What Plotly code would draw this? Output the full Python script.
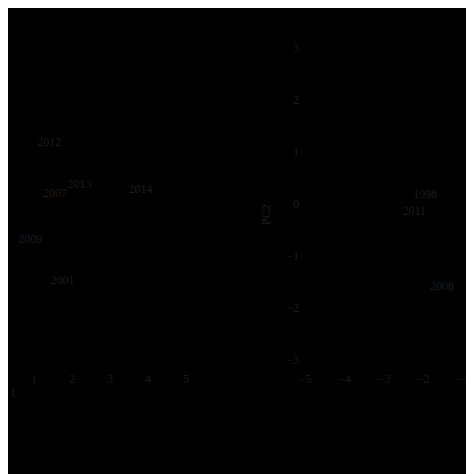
import plotly.graph_objects as go

left_years = ["2010", "2012", "2013", "2007", "2014", "2002", "2009", "2001"]
left_x = [-0.1, 1.4, 2.2, 1.55, 3.8, 0.3, 0.9, 1.75]
left_y = [1.69, 1.17, 0.37, 0.19, 0.27, -0.69, -0.69, -1.48]
right_years = ["1998", "2011", "2008"]
right_x = [-1.95, -2.23, -1.52]
right_y = [0.17, -0.15, -1.6]
x1_ticks = [1, 2, 3, 4, 5]
x2_ticks = [-5, -4, -3, -2, -1]
y_ticks = [-3, -2, -1, 0, 1, 2, 3]

ink = "#1c1c1c"
font = dict(family="Liberation Serif", size=12, color=ink)
W = 466
fig = go.Figure()
fig.add_trace(go.Scatter(x=left_x, y=left_y, text=left_years, mode="text",
                         textfont=font, xaxis="x", yaxis="y", cliponaxis=False))
fig.add_trace(go.Scatter(x=right_x, y=right_y, text=right_years, mode="text",
                         textfont=font, xaxis="x2", yaxis="y2", cliponaxis=False))
ydom = [104/W, 1]
common = dict(showgrid=False, zeroline=False, showline=False, ticks="", tickfont=font)
fig.update_layout(
    width=W, height=W, margin=dict(l=0, r=0, t=0, b=0),
    paper_bgcolor="black", plot_bgcolor="black", showlegend=False,
    xaxis=dict(domain=[0, 227/W], range=[0.316, 6.29], tickvals=x1_ticks, anchor="y", **common),
    yaxis=dict(domain=ydom, range=[-3.19, 3.77], showticklabels=False, anchor="x", **common),
    xaxis2=dict(domain=[292/W, 1], range=[-5.13, -0.71], tickvals=x2_ticks, anchor="y2", **common),
    yaxis2=dict(domain=ydom, range=[-3.19, 3.77], tickvals=y_ticks, anchor="x2", **common),
)
fig.add_annotation(text="PC2", textangle=-90, x=258/W, y=1-207/W, xref="paper", yref="paper",
                   showarrow=False, font=font)
fig.add_annotation(text="1", x=0, xanchor="left", y=1-394/W, xref="paper", yref="paper",
                   showarrow=False, font=font)
fig.write_html("out.html")
